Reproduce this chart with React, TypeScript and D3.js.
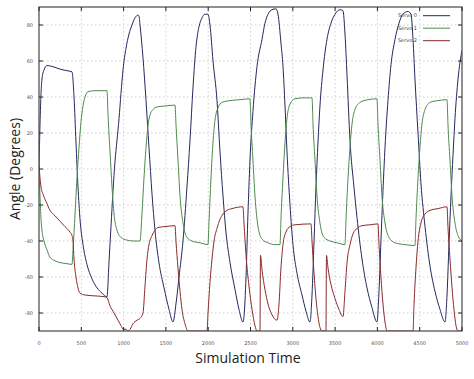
import React from "react";
import * as d3 from "d3";

// [time, angle]
const servo0: [number, number][] = [
  [0, 0], [12, 25], [24, 42], [35, 50], [59, 55], [95, 57.5], [154, 57], [248, 55.5], [343, 54.5], [390, 54],
  [414, 40], [437, 15], [461, -10], [485, -28], [520, -42], [567, -53], [626, -61], [686, -66], [745, -69], [804, -71],
  [827, -52], [851, -32], [875, -12], [898, 4], [922, 16], [946, 28], [969, 42], [993, 55], [1028, 67], [1064, 75],
  [1099, 80], [1135, 84], [1170, 85.5], [1182, 85], [1194, 80], [1229, 62], [1265, 38], [1300, 12], [1336, -14],
  [1371, -34], [1418, -52], [1478, -66], [1537, -78], [1584, -85],
  [1619, -75], [1655, -60], [1702, -40], [1749, -10], [1785, 16], [1820, 45], [1856, 68], [1891, 79], [1927, 84],
  [1962, 86], [1998, 86], [2021, 80], [2057, 60], [2104, 38], [2139, 10], [2175, -15], [2210, -35], [2258, -52],
  [2317, -67], [2364, -78], [2411, -85],
  [2423, -82], [2447, -60], [2470, -25], [2494, 5], [2529, 32], [2577, 57], [2636, 72], [2671, 81], [2707, 86],
  [2754, 88.5], [2801, 89], [2825, 86], [2860, 70], [2884, 57], [2908, 35], [2931, 10], [2967, -20], [3002, -42],
  [3050, -58], [3109, -70], [3156, -79], [3203, -85],
  [3227, -70], [3251, -40], [3274, -10], [3298, 15], [3321, 35], [3357, 55], [3404, 72], [3451, 81], [3499, 86],
  [3558, 88.5], [3593, 88], [3617, 75], [3641, 52], [3676, 16], [3723, -10], [3759, -27], [3818, -50], [3877, -66],
  [3936, -77], [3995, -85],
  [4019, -68], [4042, -40], [4066, -12], [4090, 12], [4125, 38], [4161, 58], [4208, 72], [4255, 81], [4302, 86],
  [4362, 87.5], [4397, 86], [4421, 72], [4444, 50], [4480, 20], [4515, -8], [4563, -32], [4622, -54], [4681, -68],
  [4740, -78], [4799, -85],
  [4823, -70], [4846, -42], [4870, -15], [4894, 8], [4917, 28], [4953, 50], [5000, 66],
];

const servo1: [number, number][] = [
  [0, 0], [12, -15], [24, -28], [35, -34], [59, -40], [95, -45], [130, -49], [189, -51], [248, -52], [319, -52.5],
  [390, -53], [402, -45], [426, -25], [449, -5], [473, 12], [496, 26], [520, 35], [544, 40], [579, 43], [662, 43.5],
  [804, 43.5], [816, 30], [839, 10], [863, -10], [887, -25], [922, -34], [969, -38], [1040, -39.5], [1123, -40],
  [1194, -40], [1217, -25], [1241, -5], [1265, 12], [1288, 24], [1312, 30], [1347, 33], [1395, 34.5], [1489, 35],
  [1608, 35.5], [1619, 25], [1643, 5], [1667, -15], [1702, -30], [1749, -38], [1808, -40], [1903, -41], [1998, -42],
  [2009, -30], [2033, -5], [2057, 15], [2080, 27], [2116, 34], [2163, 37], [2258, 38], [2376, 38.5], [2494, 39],
  [2506, 25], [2529, 5], [2553, -15], [2589, -32], [2636, -39], [2707, -41], [2790, -42], [2849, -42],
  [2860, -28], [2884, -5], [2908, 15], [2931, 28], [2967, 36], [3026, 39], [3120, 39.5], [3227, 39.5],
  [3239, 25], [3262, 5], [3286, -15], [3321, -30], [3369, -38], [3440, -40], [3522, -41], [3617, -42],
  [3629, -28], [3653, -5], [3676, 12], [3700, 25], [3735, 33], [3794, 37], [3889, 38.5], [3995, 39],
  [4007, 25], [4031, 5], [4054, -15], [4090, -30], [4137, -38], [4208, -41], [4326, -42], [4444, -42.5],
  [4456, -28], [4480, -5], [4503, 12], [4527, 25], [4563, 33], [4622, 37], [4716, 38], [4823, 38.5],
  [4834, 25], [4858, 5], [4882, -15], [4917, -30], [4953, -37], [5000, -40],
];

const servo2: [number, number][] = [
  [0, 2], [12, -5], [24, -10], [47, -14], [83, -18], [130, -23], [189, -26], [248, -29], [307, -32], [366, -35],
  [390, -37], [402, -40], [414, -50], [437, -60], [461, -66], [485, -69], [544, -70], [662, -70.5], [780, -71],
  [804, -71.5], [839, -76], [887, -80], [934, -84], [969, -87], [993, -89], [1028, -89], [1052, -90], [1076, -89],
  [1111, -86], [1158, -84], [1194, -83], [1229, -80], [1253, -65], [1277, -50], [1300, -42], [1336, -37],
  [1371, -34], [1407, -32.5], [1489, -32], [1608, -31.5], [1619, -40], [1643, -55], [1667, -68], [1690, -78],
  [1726, -86], [1761, -90], [1986, -90], [1998, -80], [2021, -63], [2045, -50], [2069, -40], [2104, -33],
  [2139, -28], [2175, -25], [2222, -23], [2281, -22], [2411, -21], [2423, -30], [2447, -48], [2482, -65],
  [2518, -78], [2553, -87], [2577, -90], [2612, -90], [2618, -48], [2636, -56], [2671, -67], [2707, -75],
  [2754, -81], [2813, -84], [2837, -75], [2860, -55], [2884, -42], [2919, -35], [2967, -32], [3026, -31],
  [3215, -30.5], [3227, -40], [3251, -58], [3274, -72], [3298, -82], [3321, -88], [3345, -90], [3392, -90],
  [3398, -48], [3416, -55], [3451, -64], [3499, -72], [3546, -78], [3593, -82], [3617, -68], [3641, -52],
  [3676, -42], [3712, -36], [3759, -33], [3818, -31.5], [3912, -31], [4007, -30.5], [4019, -42], [4042, -60],
  [4066, -75], [4090, -85], [4113, -90], [4421, -90], [4433, -75], [4456, -55], [4480, -40], [4515, -30],
  [4563, -25], [4622, -23], [4716, -22], [4823, -21], [4834, -32], [4858, -50], [4882, -66], [4905, -78],
  [4929, -87], [4953, -90], [5000, -90],
];

const xTicks = [0, 500, 1000, 1500, 2000, 2500, 3000, 3500, 4000, 4500, 5000];
const yTicks = [-80, -60, -40, -20, 0, 20, 40, 60, 80];
const seriesNames = ["Servo 0", "Servo 1", "Servo 2"];
const seriesColors = ["#25285e", "#4f8a4f", "#8a2a2a"];

export default function App() {
  const W = 474, H = 379;
  const L = 39, R = 462, T = 7, B = 331;
  const x = d3.scaleLinear().domain([0, 5000]).range([L, R]);
  const y = d3.scaleLinear().domain([-90, 90]).range([B, T]);
  const line = d3.line<[number, number]>().x(d => x(d[0])).y(d => y(d[1])).curve(d3.curveMonotoneX);
  const series = [servo0, servo1, servo2];
  const tick = 4;
  return (
    <svg width={W} height={H} style={{ position: "absolute", left: 0, top: 0, display: "block", background: "#fff" }}>
      <rect x={0} y={0} width={W} height={H} fill="#fff" />
      {xTicks.slice(1, -1).map(t => (
        <line key={"gx" + t} x1={x(t)} x2={x(t)} y1={T} y2={B} stroke="#c4c4c4" strokeWidth={0.8} strokeDasharray="1.5,2.5" />
      ))}
      {yTicks.map(t => (
        <line key={"gy" + t} x1={L} x2={R} y1={y(t)} y2={y(t)} stroke="#c4c4c4" strokeWidth={0.8} strokeDasharray="1.5,2.5" />
      ))}
      <g clipPath="url(#clip)">
        <defs>
          <clipPath id="clip"><rect x={L} y={T} width={R - L} height={B - T} /></clipPath>
        </defs>
        {series.map((s, i) => (
          <path key={i} d={line(s) || ""} fill="none" stroke={seriesColors[i]} strokeWidth={1} />
        ))}
      </g>
      <rect x={L} y={T} width={R - L} height={B - T} fill="none" stroke="#555" strokeWidth={1.3} />
      {xTicks.map(t => (
        <g key={"tx" + t}>
          <line x1={x(t)} x2={x(t)} y1={B} y2={B - tick} stroke="#222" strokeWidth={1} />
          <line x1={x(t)} x2={x(t)} y1={T} y2={T + tick} stroke="#222" strokeWidth={1} />
          <text x={x(t)} y={345} fontSize={5} fill="#555" textAnchor="middle" fontFamily="DejaVu Sans">{t}</text>
        </g>
      ))}
      {yTicks.map(t => (
        <g key={"ty" + t}>
          <line x1={L} x2={L + tick} y1={y(t)} y2={y(t)} stroke="#222" strokeWidth={1} />
          <line x1={R} x2={R - tick} y1={y(t)} y2={y(t)} stroke="#222" strokeWidth={1} />
          <text x={33} y={y(t)} dy="0.35em" fontSize={5} fill="#555" textAnchor="end" fontFamily="DejaVu Sans">{t}</text>
        </g>
      ))}
      {seriesNames.map((n, i) => (
        <g key={n}>
          <text x={417} y={15.7 + i * 12.5} dy="0.35em" fontSize={5} fill="#444" textAnchor="end" fontFamily="DejaVu Sans">{n}</text>
          <line x1={423} x2={450} y1={15.7 + i * 12.5} y2={15.7 + i * 12.5} stroke={seriesColors[i]} strokeWidth={1} />
        </g>
      ))}
      <text x={248} y={363} fontSize={14} fill="#222" textAnchor="middle" fontFamily="Open Sans">Simulation Time</text>
      <text transform={`translate(20,169) rotate(-90)`} fontSize={14} fill="#222" textAnchor="middle" fontFamily="Open Sans">Angle (Degrees)</text>
    </svg>
  );
}
